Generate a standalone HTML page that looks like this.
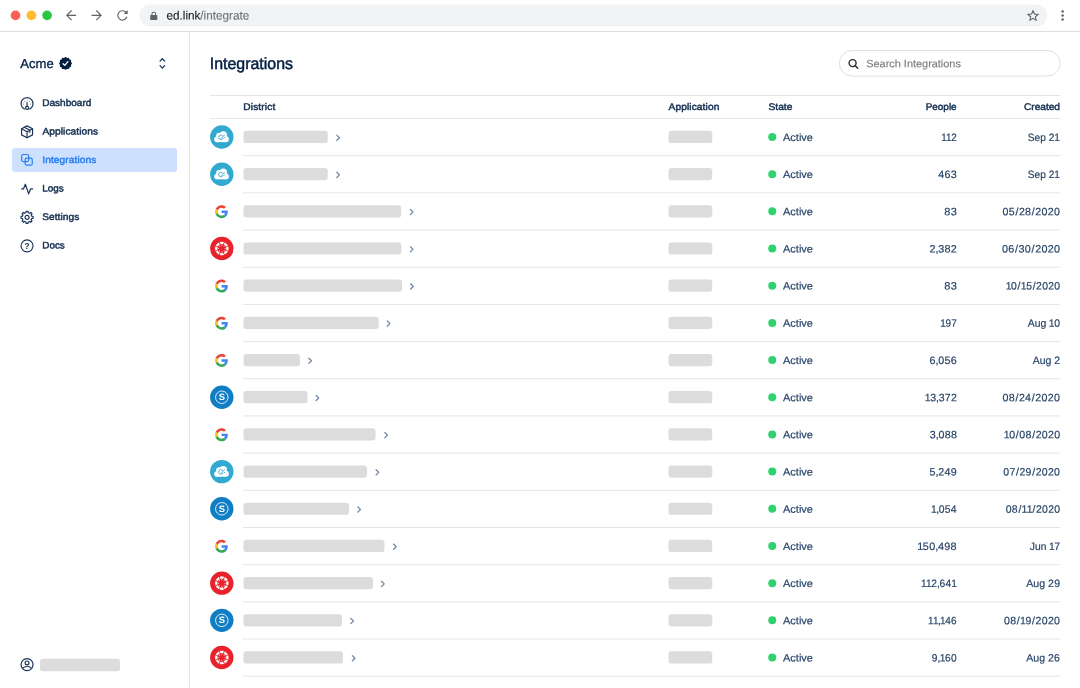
<!DOCTYPE html>
<html lang="en">
<head>
<meta charset="utf-8">
<title>Integrations</title>
<style>
*{box-sizing:border-box}
html,body{margin:0;padding:0;width:1080px;height:688px;overflow:hidden;background:#fff}
body{position:relative;font-family:"Liberation Sans",sans-serif;color:#243b53}
#shapes{position:absolute;left:0;top:0;display:block}
.a{position:absolute;white-space:pre;line-height:1;display:block;transform-origin:0 0;text-rendering:geometricPrecision}
</style>
</head>
<body>
<svg id="shapes" width="1080" height="688" viewBox="0 0 1080 688">
<rect x="0" y="31" width="1080" height="1" fill="#dcdee1"/>
<circle cx="15.5" cy="15.4" r="4.85" fill="#fe5f57"/>
<circle cx="31.35" cy="15.4" r="4.85" fill="#febc2e"/>
<circle cx="47.1" cy="15.4" r="4.85" fill="#28c840"/>
<path d="M76.1 15.3H67.2M71.6 10.5 66.8 15.3 71.6 20.1" fill="none" stroke="#5f6368" stroke-width="1.15"/>
<path d="M91.6 15.3H100.7M96.3 10.5 101.1 15.3 96.3 20.1" fill="none" stroke="#5f6368" stroke-width="1.15"/>
<path d="M126.2 12.6A4.65 4.65 0 1 0 126.9 16.8" fill="none" stroke="#5f6368" stroke-width="1.15"/><path d="M127.7 10.1V14.1H123.7Z" fill="#5f6368"/>
<rect x="139.4" y="4.6" width="907.7" height="21.8" rx="10.9" fill="#f1f3f4"/>
<path d="M151.9 15.6V14a1.85 1.85 0 0 1 3.7 0V15.6" fill="none" stroke="#5f6368" stroke-width="1.05"/><rect x="150.2" y="15.1" width="7.1" height="5" rx=".8" fill="#5f6368"/>
<path transform="translate(1033 15.8) scale(0.47)" d="M0 -10.6 3.1 -3.7 10.7 -3 5 2 6.6 9.4 0 5.5-6.6 9.4-5 2-10.7 -3-3.1 -3.7Z" fill="none" stroke="#5f6368" stroke-width="2.3" stroke-linejoin="miter"/>
<circle cx="1062.6" cy="11.55" r="1.25" fill="#5f6368"/>
<circle cx="1062.6" cy="15.55" r="1.25" fill="#5f6368"/>
<circle cx="1062.6" cy="19.5" r="1.25" fill="#5f6368"/>
<rect x="189" y="32" width="1" height="656" fill="#e5e6e8"/>
<path d="M65.5 56.99 L65.78 57.04 L66.04 57.19 L66.29 57.4 L66.52 57.62 L66.74 57.8 L66.97 57.9 L67.23 57.93 L67.51 57.88 L67.82 57.81 L68.13 57.75 L68.44 57.76 L68.7 57.85 L68.92 58.03 L69.07 58.3 L69.18 58.6 L69.27 58.9 L69.38 59.17 L69.52 59.38 L69.73 59.52 L70 59.63 L70.3 59.72 L70.6 59.83 L70.87 59.98 L71.05 60.2 L71.14 60.46 L71.15 60.77 L71.09 61.08 L71.02 61.39 L70.97 61.67 L71 61.93 L71.1 62.16 L71.28 62.38 L71.5 62.61 L71.71 62.86 L71.86 63.12 L71.91 63.4 L71.86 63.68 L71.71 63.94 L71.5 64.19 L71.28 64.42 L71.1 64.64 L71 64.87 L70.97 65.13 L71.02 65.41 L71.09 65.72 L71.15 66.03 L71.14 66.34 L71.05 66.61 L70.87 66.82 L70.6 66.97 L70.3 67.08 L70 67.17 L69.73 67.28 L69.52 67.42 L69.38 67.63 L69.27 67.9 L69.18 68.2 L69.07 68.5 L68.92 68.77 L68.7 68.95 L68.44 69.04 L68.13 69.05 L67.82 68.99 L67.51 68.92 L67.23 68.87 L66.97 68.9 L66.74 69 L66.52 69.18 L66.29 69.4 L66.04 69.61 L65.78 69.76 L65.5 69.81 L65.22 69.76 L64.96 69.61 L64.71 69.4 L64.48 69.18 L64.26 69 L64.03 68.9 L63.77 68.87 L63.49 68.92 L63.18 68.99 L62.87 69.05 L62.56 69.04 L62.3 68.95 L62.08 68.77 L61.93 68.5 L61.82 68.2 L61.73 67.9 L61.62 67.63 L61.48 67.42 L61.27 67.28 L61 67.17 L60.7 67.08 L60.4 66.97 L60.13 66.82 L59.95 66.61 L59.86 66.34 L59.85 66.03 L59.91 65.72 L59.98 65.41 L60.03 65.13 L60 64.87 L59.9 64.64 L59.72 64.42 L59.5 64.19 L59.29 63.94 L59.14 63.68 L59.09 63.4 L59.14 63.12 L59.29 62.86 L59.5 62.61 L59.72 62.38 L59.9 62.16 L60 61.93 L60.03 61.67 L59.98 61.39 L59.91 61.08 L59.85 60.77 L59.86 60.46 L59.95 60.2 L60.13 59.98 L60.4 59.83 L60.7 59.72 L61 59.63 L61.27 59.52 L61.48 59.38 L61.62 59.17 L61.73 58.9 L61.82 58.6 L61.93 58.3 L62.08 58.03 L62.3 57.85 L62.56 57.76 L62.87 57.75 L63.18 57.81 L63.49 57.88 L63.77 57.93 L64.03 57.9 L64.26 57.8 L64.48 57.62 L64.71 57.4 L64.96 57.19 L65.22 57.04Z" fill="#031f43"/><path d="M63.1 63.7 64.8 65.4 67.9 61.7" fill="none" stroke="#fff" stroke-width="1.3" stroke-linecap="round" stroke-linejoin="round"/>
<path d="M160 61.1 162.35 58.75 164.7 61.1M160 65.7 162.35 68.05 164.7 65.7" fill="none" stroke="#163052" stroke-width="1.2" stroke-linecap="round" stroke-linejoin="round"/>
<rect x="12.05" y="147.9" width="165.05" height="24" rx="2.6" fill="#cde1ff"/>
<g transform="translate(27.05 103.5)"><g fill="none" stroke="#1b3659" stroke-width="1.2" stroke-linecap="round" stroke-linejoin="round"><path d="M-2.6 5.55A6.05 6.05 0 1 1 2.6 5.55"/><circle cx="0" cy="4.4" r="1.55" fill="#fff"/><path d="M0 2.8V-1"/></g><g fill="#1b3659" opacity=".8"><circle cx="0" cy="-3.3" r=".5"/><circle cx="-2.6" cy="-2.2" r=".5"/><circle cx="2.6" cy="-2.2" r=".5"/><circle cx="-3.6" cy="0.4" r=".5"/><circle cx="3.6" cy="0.4" r=".5"/></g></g>
<g transform="translate(27.05 131.97)"><g fill="none" stroke="#1b3659" stroke-width="1.2" stroke-linecap="round" stroke-linejoin="round"><path d="M0 -6.1 5.5 -3.2V2.9L0 5.8 -5.5 2.9V-3.2Z"/><path d="M-5.5 -3.2 0 -.3 5.5 -3.2M0 -.3V5.8M-2.75 -4.65 2.75 -1.75V.4"/></g></g>
<g transform="translate(27.05 160.44)"><g fill="none" stroke="#2b7ff2" stroke-width="1.2" stroke-linecap="round" stroke-linejoin="round" stroke-width="1.3"><rect x="-5.4" y="-5.95" width="7.05" height="7.05" rx="1.5"/><rect x="-1.85" y="-2.3" width="7.05" height="7.05" rx="1.5"/></g></g>
<g transform="translate(27.05 188.91)"><g fill="none" stroke="#1b3659" stroke-width="1.2" stroke-linecap="round" stroke-linejoin="round" stroke-width="1.3"><path d="M-5.4 0H-3.6L-1.7 -4.7 1.6 4.9 3.5 0H5.6"/></g></g>
<g transform="translate(27.05 217.38)"><g fill="none" stroke="#1b3659" stroke-width="1.2" stroke-linecap="round" stroke-linejoin="round"><path d="M-0.95 -6.02 L0.95 -6.02 L1.12 -4.67 L2.51 -4.09 L3.59 -4.94 L4.94 -3.59 L4.09 -2.51 L4.67 -1.12 L6.02 -0.95 L6.02 0.95 L4.67 1.12 L4.09 2.51 L4.94 3.59 L3.59 4.94 L2.51 4.09 L1.12 4.67 L0.95 6.02 L-0.95 6.02 L-1.12 4.67 L-2.51 4.09 L-3.59 4.94 L-4.94 3.59 L-4.09 2.51 L-4.67 1.12 L-6.02 0.95 L-6.02 -0.95 L-4.67 -1.12 L-4.09 -2.51 L-4.94 -3.59 L-3.59 -4.94 L-2.51 -4.09 L-1.12 -4.67Z"/><circle cx="0" cy="0" r="2"/></g></g>
<g transform="translate(27.05 245.85)"><circle r="6" fill="none" stroke="#1b3659" stroke-width="1.15"/><text x="0" y="3.1" text-anchor="middle" font-family="'Liberation Sans',sans-serif" font-size="8.8" font-weight="700" fill="#1b3659">?</text></g>
<g transform="translate(27.05 664.6)"><g fill="none" stroke="#1b3659" stroke-width="1.2" stroke-linecap="round" stroke-linejoin="round"><circle r="6"/><circle cx="0" cy="-1.7" r="1.9"/><path d="M-4.6 3.8C-2.6 1.3 2.6 1.3 4.6 3.8"/></g></g>
<rect x="40" y="658.8" width="80" height="12.4" rx="2.9" fill="#dcdcdc"/>
<rect x="839.4" y="50.5" width="220.7" height="25.6" rx="12.8" fill="#fff" stroke="#dedede" stroke-width="1"/>
<circle cx="852.6" cy="63.1" r="3.5" fill="none" stroke="#1f2933" stroke-width="1.4"/><path d="M855.3 65.8 857.7 68.2" stroke="#1f2933" stroke-width="1.5" stroke-linecap="round"/>
<rect x="210" y="95" width="850" height="1" fill="#e5e5e5"/>
<rect x="210" y="118" width="850" height="1" fill="#e5e5e5"/>
<g transform="translate(221.8 137)"><circle r="11.7" fill="#31a9d0"/><g fill="#fff"><circle cx="-4.8" cy="2.35" r="2.8"/><circle cx="-2.7" cy="-1.3" r="3"/><circle cx="1.5" cy="-2" r="3.65"/><circle cx="4.1" cy="2.2" r="2.95"/><rect x="-4.8" y="-.5" width="8.9" height="5.65"/></g><path d="M.3 -1.7a2.3 2.3 0 1 0 .5 3.6M-.3 1.2l2.9-3.1M1.9 1.5l1.1-1.1" stroke="#3fadd3" stroke-width="1" fill="none" stroke-linecap="round"/></g>
<rect x="243.5" y="130.85" width="84.25" height="12.2" rx="2.9" fill="#dcdcdc"/>
<path d="M336.85 135.1l2.6 2.6-2.6 2.6" fill="none" stroke="#728aa6" stroke-width="1.3" stroke-linecap="round" stroke-linejoin="round"/>
<rect x="668.5" y="130.85" width="43.8" height="12.2" rx="2.9" fill="#dcdcdc"/>
<circle cx="772.25" cy="137" r="4" fill="#2fd26f"/>
<rect x="243" y="155.18" width="817" height="1" fill="#e5e5e5"/>
<g transform="translate(221.8 174.18)"><circle r="11.7" fill="#31a9d0"/><g fill="#fff"><circle cx="-4.8" cy="2.35" r="2.8"/><circle cx="-2.7" cy="-1.3" r="3"/><circle cx="1.5" cy="-2" r="3.65"/><circle cx="4.1" cy="2.2" r="2.95"/><rect x="-4.8" y="-.5" width="8.9" height="5.65"/></g><path d="M.3 -1.7a2.3 2.3 0 1 0 .5 3.6M-.3 1.2l2.9-3.1M1.9 1.5l1.1-1.1" stroke="#3fadd3" stroke-width="1" fill="none" stroke-linecap="round"/></g>
<rect x="243.5" y="168.03" width="84.25" height="12.2" rx="2.9" fill="#dcdcdc"/>
<path d="M336.85 172.28l2.6 2.6-2.6 2.6" fill="none" stroke="#728aa6" stroke-width="1.3" stroke-linecap="round" stroke-linejoin="round"/>
<rect x="668.5" y="168.03" width="43.8" height="12.2" rx="2.9" fill="#dcdcdc"/>
<circle cx="772.25" cy="174.18" r="4" fill="#2fd26f"/>
<rect x="243" y="192.36" width="817" height="1" fill="#e5e5e5"/>
<g transform="translate(221.8 211.36)"><circle r="11.6" fill="#fff" stroke="#fafafa" stroke-width="0.6"/><g transform="translate(-6.75 -6.2) scale(0.271)"><path fill="#EA4335" d="M24 9.5c3.54 0 6.71 1.22 9.21 3.6l6.85-6.85C35.9 2.38 30.47 0 24 0 14.62 0 6.51 5.38 2.56 13.22l7.98 6.19C12.43 13.72 17.74 9.5 24 9.5z"/><path fill="#4285F4" d="M46.98 24.55c0-1.57-.15-3.09-.38-4.55H24v9.02h12.94c-.58 2.96-2.26 5.48-4.78 7.18l7.73 6c4.51-4.18 7.09-10.36 7.09-17.65z"/><path fill="#FBBC05" d="M10.53 28.59c-.48-1.45-.76-2.99-.76-4.59s.27-3.14.76-4.59l-7.98-6.19C.92 16.46 0 20.12 0 24c0 3.88.92 7.54 2.56 10.78l7.97-6.19z"/><path fill="#34A853" d="M24 48c6.48 0 11.93-2.13 15.89-5.81l-7.73-6c-2.15 1.45-4.92 2.3-8.16 2.3-6.26 0-11.57-4.22-13.47-9.91l-7.98 6.19C6.51 42.62 14.62 48 24 48z"/></g></g>
<rect x="243.5" y="205.21" width="157.75" height="12.2" rx="2.9" fill="#dcdcdc"/>
<path d="M410.35 209.46l2.6 2.6-2.6 2.6" fill="none" stroke="#728aa6" stroke-width="1.3" stroke-linecap="round" stroke-linejoin="round"/>
<rect x="668.5" y="205.21" width="43.8" height="12.2" rx="2.9" fill="#dcdcdc"/>
<circle cx="772.25" cy="211.36" r="4" fill="#2fd26f"/>
<rect x="243" y="229.54" width="817" height="1" fill="#e5e5e5"/>
<g transform="translate(221.8 248.54)"><circle r="11.7" fill="#e8222a"/><path transform="rotate(0)" d="M-1.95 -6.3 A6.6 6.6 0 0 1 1.95 -6.3 L1.25 -4.45 A4.6 4.6 0 0 0 -1.25 -4.45Z" fill="#fff" stroke="#fff" stroke-width=".35" stroke-linejoin="round"/><circle transform="rotate(0)" cx="0" cy="-3.3" r="0.5" fill="#fff"/><path transform="rotate(45)" d="M-1.95 -6.3 A6.6 6.6 0 0 1 1.95 -6.3 L1.25 -4.45 A4.6 4.6 0 0 0 -1.25 -4.45Z" fill="#fff" stroke="#fff" stroke-width=".35" stroke-linejoin="round"/><circle transform="rotate(45)" cx="0" cy="-3.3" r="0.5" fill="#fff"/><path transform="rotate(90)" d="M-1.95 -6.3 A6.6 6.6 0 0 1 1.95 -6.3 L1.25 -4.45 A4.6 4.6 0 0 0 -1.25 -4.45Z" fill="#fff" stroke="#fff" stroke-width=".35" stroke-linejoin="round"/><circle transform="rotate(90)" cx="0" cy="-3.3" r="0.5" fill="#fff"/><path transform="rotate(135)" d="M-1.95 -6.3 A6.6 6.6 0 0 1 1.95 -6.3 L1.25 -4.45 A4.6 4.6 0 0 0 -1.25 -4.45Z" fill="#fff" stroke="#fff" stroke-width=".35" stroke-linejoin="round"/><circle transform="rotate(135)" cx="0" cy="-3.3" r="0.5" fill="#fff"/><path transform="rotate(180)" d="M-1.95 -6.3 A6.6 6.6 0 0 1 1.95 -6.3 L1.25 -4.45 A4.6 4.6 0 0 0 -1.25 -4.45Z" fill="#fff" stroke="#fff" stroke-width=".35" stroke-linejoin="round"/><circle transform="rotate(180)" cx="0" cy="-3.3" r="0.5" fill="#fff"/><path transform="rotate(225)" d="M-1.95 -6.3 A6.6 6.6 0 0 1 1.95 -6.3 L1.25 -4.45 A4.6 4.6 0 0 0 -1.25 -4.45Z" fill="#fff" stroke="#fff" stroke-width=".35" stroke-linejoin="round"/><circle transform="rotate(225)" cx="0" cy="-3.3" r="0.5" fill="#fff"/><path transform="rotate(270)" d="M-1.95 -6.3 A6.6 6.6 0 0 1 1.95 -6.3 L1.25 -4.45 A4.6 4.6 0 0 0 -1.25 -4.45Z" fill="#fff" stroke="#fff" stroke-width=".35" stroke-linejoin="round"/><circle transform="rotate(270)" cx="0" cy="-3.3" r="0.5" fill="#fff"/><path transform="rotate(315)" d="M-1.95 -6.3 A6.6 6.6 0 0 1 1.95 -6.3 L1.25 -4.45 A4.6 4.6 0 0 0 -1.25 -4.45Z" fill="#fff" stroke="#fff" stroke-width=".35" stroke-linejoin="round"/><circle transform="rotate(315)" cx="0" cy="-3.3" r="0.5" fill="#fff"/></g>
<rect x="243.5" y="242.39" width="157.75" height="12.2" rx="2.9" fill="#dcdcdc"/>
<path d="M410.35 246.64l2.6 2.6-2.6 2.6" fill="none" stroke="#728aa6" stroke-width="1.3" stroke-linecap="round" stroke-linejoin="round"/>
<rect x="668.5" y="242.39" width="43.8" height="12.2" rx="2.9" fill="#dcdcdc"/>
<circle cx="772.25" cy="248.54" r="4" fill="#2fd26f"/>
<rect x="243" y="266.72" width="817" height="1" fill="#e5e5e5"/>
<g transform="translate(221.8 285.72)"><circle r="11.6" fill="#fff" stroke="#fafafa" stroke-width="0.6"/><g transform="translate(-6.75 -6.2) scale(0.271)"><path fill="#EA4335" d="M24 9.5c3.54 0 6.71 1.22 9.21 3.6l6.85-6.85C35.9 2.38 30.47 0 24 0 14.62 0 6.51 5.38 2.56 13.22l7.98 6.19C12.43 13.72 17.74 9.5 24 9.5z"/><path fill="#4285F4" d="M46.98 24.55c0-1.57-.15-3.09-.38-4.55H24v9.02h12.94c-.58 2.96-2.26 5.48-4.78 7.18l7.73 6c4.51-4.18 7.09-10.36 7.09-17.65z"/><path fill="#FBBC05" d="M10.53 28.59c-.48-1.45-.76-2.99-.76-4.59s.27-3.14.76-4.59l-7.98-6.19C.92 16.46 0 20.12 0 24c0 3.88.92 7.54 2.56 10.78l7.97-6.19z"/><path fill="#34A853" d="M24 48c6.48 0 11.93-2.13 15.89-5.81l-7.73-6c-2.15 1.45-4.92 2.3-8.16 2.3-6.26 0-11.57-4.22-13.47-9.91l-7.98 6.19C6.51 42.62 14.62 48 24 48z"/></g></g>
<rect x="243.5" y="279.57" width="158.5" height="12.2" rx="2.9" fill="#dcdcdc"/>
<path d="M410.6 283.82l2.6 2.6-2.6 2.6" fill="none" stroke="#728aa6" stroke-width="1.3" stroke-linecap="round" stroke-linejoin="round"/>
<rect x="668.5" y="279.57" width="43.8" height="12.2" rx="2.9" fill="#dcdcdc"/>
<circle cx="772.25" cy="285.72" r="4" fill="#2fd26f"/>
<rect x="243" y="303.9" width="817" height="1" fill="#e5e5e5"/>
<g transform="translate(221.8 322.9)"><circle r="11.6" fill="#fff" stroke="#fafafa" stroke-width="0.6"/><g transform="translate(-6.75 -6.2) scale(0.271)"><path fill="#EA4335" d="M24 9.5c3.54 0 6.71 1.22 9.21 3.6l6.85-6.85C35.9 2.38 30.47 0 24 0 14.62 0 6.51 5.38 2.56 13.22l7.98 6.19C12.43 13.72 17.74 9.5 24 9.5z"/><path fill="#4285F4" d="M46.98 24.55c0-1.57-.15-3.09-.38-4.55H24v9.02h12.94c-.58 2.96-2.26 5.48-4.78 7.18l7.73 6c4.51-4.18 7.09-10.36 7.09-17.65z"/><path fill="#FBBC05" d="M10.53 28.59c-.48-1.45-.76-2.99-.76-4.59s.27-3.14.76-4.59l-7.98-6.19C.92 16.46 0 20.12 0 24c0 3.88.92 7.54 2.56 10.78l7.97-6.19z"/><path fill="#34A853" d="M24 48c6.48 0 11.93-2.13 15.89-5.81l-7.73-6c-2.15 1.45-4.92 2.3-8.16 2.3-6.26 0-11.57-4.22-13.47-9.91l-7.98 6.19C6.51 42.62 14.62 48 24 48z"/></g></g>
<rect x="243.5" y="316.75" width="135.25" height="12.2" rx="2.9" fill="#dcdcdc"/>
<path d="M387.35 321l2.6 2.6-2.6 2.6" fill="none" stroke="#728aa6" stroke-width="1.3" stroke-linecap="round" stroke-linejoin="round"/>
<rect x="668.5" y="316.75" width="43.8" height="12.2" rx="2.9" fill="#dcdcdc"/>
<circle cx="772.25" cy="322.9" r="4" fill="#2fd26f"/>
<rect x="243" y="341.08" width="817" height="1" fill="#e5e5e5"/>
<g transform="translate(221.8 360.08)"><circle r="11.6" fill="#fff" stroke="#fafafa" stroke-width="0.6"/><g transform="translate(-6.75 -6.2) scale(0.271)"><path fill="#EA4335" d="M24 9.5c3.54 0 6.71 1.22 9.21 3.6l6.85-6.85C35.9 2.38 30.47 0 24 0 14.62 0 6.51 5.38 2.56 13.22l7.98 6.19C12.43 13.72 17.74 9.5 24 9.5z"/><path fill="#4285F4" d="M46.98 24.55c0-1.57-.15-3.09-.38-4.55H24v9.02h12.94c-.58 2.96-2.26 5.48-4.78 7.18l7.73 6c4.51-4.18 7.09-10.36 7.09-17.65z"/><path fill="#FBBC05" d="M10.53 28.59c-.48-1.45-.76-2.99-.76-4.59s.27-3.14.76-4.59l-7.98-6.19C.92 16.46 0 20.12 0 24c0 3.88.92 7.54 2.56 10.78l7.97-6.19z"/><path fill="#34A853" d="M24 48c6.48 0 11.93-2.13 15.89-5.81l-7.73-6c-2.15 1.45-4.92 2.3-8.16 2.3-6.26 0-11.57-4.22-13.47-9.91l-7.98 6.19C6.51 42.62 14.62 48 24 48z"/></g></g>
<rect x="243.5" y="353.93" width="56.5" height="12.2" rx="2.9" fill="#dcdcdc"/>
<path d="M308.85 358.18l2.6 2.6-2.6 2.6" fill="none" stroke="#728aa6" stroke-width="1.3" stroke-linecap="round" stroke-linejoin="round"/>
<rect x="668.5" y="353.93" width="43.8" height="12.2" rx="2.9" fill="#dcdcdc"/>
<circle cx="772.25" cy="360.08" r="4" fill="#2fd26f"/>
<rect x="243" y="378.26" width="817" height="1" fill="#e5e5e5"/>
<g transform="translate(221.8 397.26)"><circle r="11.7" fill="#0f7ec4"/><circle r="6.25" fill="none" stroke="#fff" stroke-width="0.85"/><text x="0" y="3.05" text-anchor="middle" font-family="'Liberation Sans',sans-serif" font-size="9.4" font-weight="700" fill="#fff" style="text-rendering:geometricPrecision">S</text></g>
<rect x="243.5" y="391.11" width="64" height="12.2" rx="2.9" fill="#dcdcdc"/>
<path d="M316.1 395.36l2.6 2.6-2.6 2.6" fill="none" stroke="#728aa6" stroke-width="1.3" stroke-linecap="round" stroke-linejoin="round"/>
<rect x="668.5" y="391.11" width="43.8" height="12.2" rx="2.9" fill="#dcdcdc"/>
<circle cx="772.25" cy="397.26" r="4" fill="#2fd26f"/>
<rect x="243" y="415.44" width="817" height="1" fill="#e5e5e5"/>
<g transform="translate(221.8 434.44)"><circle r="11.6" fill="#fff" stroke="#fafafa" stroke-width="0.6"/><g transform="translate(-6.75 -6.2) scale(0.271)"><path fill="#EA4335" d="M24 9.5c3.54 0 6.71 1.22 9.21 3.6l6.85-6.85C35.9 2.38 30.47 0 24 0 14.62 0 6.51 5.38 2.56 13.22l7.98 6.19C12.43 13.72 17.74 9.5 24 9.5z"/><path fill="#4285F4" d="M46.98 24.55c0-1.57-.15-3.09-.38-4.55H24v9.02h12.94c-.58 2.96-2.26 5.48-4.78 7.18l7.73 6c4.51-4.18 7.09-10.36 7.09-17.65z"/><path fill="#FBBC05" d="M10.53 28.59c-.48-1.45-.76-2.99-.76-4.59s.27-3.14.76-4.59l-7.98-6.19C.92 16.46 0 20.12 0 24c0 3.88.92 7.54 2.56 10.78l7.97-6.19z"/><path fill="#34A853" d="M24 48c6.48 0 11.93-2.13 15.89-5.81l-7.73-6c-2.15 1.45-4.92 2.3-8.16 2.3-6.26 0-11.57-4.22-13.47-9.91l-7.98 6.19C6.51 42.62 14.62 48 24 48z"/></g></g>
<rect x="243.5" y="428.29" width="132" height="12.2" rx="2.9" fill="#dcdcdc"/>
<path d="M384.85 432.54l2.6 2.6-2.6 2.6" fill="none" stroke="#728aa6" stroke-width="1.3" stroke-linecap="round" stroke-linejoin="round"/>
<rect x="668.5" y="428.29" width="43.8" height="12.2" rx="2.9" fill="#dcdcdc"/>
<circle cx="772.25" cy="434.44" r="4" fill="#2fd26f"/>
<rect x="243" y="452.62" width="817" height="1" fill="#e5e5e5"/>
<g transform="translate(221.8 471.62)"><circle r="11.7" fill="#31a9d0"/><g fill="#fff"><circle cx="-4.8" cy="2.35" r="2.8"/><circle cx="-2.7" cy="-1.3" r="3"/><circle cx="1.5" cy="-2" r="3.65"/><circle cx="4.1" cy="2.2" r="2.95"/><rect x="-4.8" y="-.5" width="8.9" height="5.65"/></g><path d="M.3 -1.7a2.3 2.3 0 1 0 .5 3.6M-.3 1.2l2.9-3.1M1.9 1.5l1.1-1.1" stroke="#3fadd3" stroke-width="1" fill="none" stroke-linecap="round"/></g>
<rect x="243.5" y="465.47" width="123.5" height="12.2" rx="2.9" fill="#dcdcdc"/>
<path d="M376.1 469.72l2.6 2.6-2.6 2.6" fill="none" stroke="#728aa6" stroke-width="1.3" stroke-linecap="round" stroke-linejoin="round"/>
<rect x="668.5" y="465.47" width="43.8" height="12.2" rx="2.9" fill="#dcdcdc"/>
<circle cx="772.25" cy="471.62" r="4" fill="#2fd26f"/>
<rect x="243" y="489.8" width="817" height="1" fill="#e5e5e5"/>
<g transform="translate(221.8 508.8)"><circle r="11.7" fill="#0f7ec4"/><circle r="6.25" fill="none" stroke="#fff" stroke-width="0.85"/><text x="0" y="3.05" text-anchor="middle" font-family="'Liberation Sans',sans-serif" font-size="9.4" font-weight="700" fill="#fff" style="text-rendering:geometricPrecision">S</text></g>
<rect x="243.5" y="502.65" width="105.5" height="12.2" rx="2.9" fill="#dcdcdc"/>
<path d="M357.85 506.9l2.6 2.6-2.6 2.6" fill="none" stroke="#728aa6" stroke-width="1.3" stroke-linecap="round" stroke-linejoin="round"/>
<rect x="668.5" y="502.65" width="43.8" height="12.2" rx="2.9" fill="#dcdcdc"/>
<circle cx="772.25" cy="508.8" r="4" fill="#2fd26f"/>
<rect x="243" y="526.98" width="817" height="1" fill="#e5e5e5"/>
<g transform="translate(221.8 545.98)"><circle r="11.6" fill="#fff" stroke="#fafafa" stroke-width="0.6"/><g transform="translate(-6.75 -6.2) scale(0.271)"><path fill="#EA4335" d="M24 9.5c3.54 0 6.71 1.22 9.21 3.6l6.85-6.85C35.9 2.38 30.47 0 24 0 14.62 0 6.51 5.38 2.56 13.22l7.98 6.19C12.43 13.72 17.74 9.5 24 9.5z"/><path fill="#4285F4" d="M46.98 24.55c0-1.57-.15-3.09-.38-4.55H24v9.02h12.94c-.58 2.96-2.26 5.48-4.78 7.18l7.73 6c4.51-4.18 7.09-10.36 7.09-17.65z"/><path fill="#FBBC05" d="M10.53 28.59c-.48-1.45-.76-2.99-.76-4.59s.27-3.14.76-4.59l-7.98-6.19C.92 16.46 0 20.12 0 24c0 3.88.92 7.54 2.56 10.78l7.97-6.19z"/><path fill="#34A853" d="M24 48c6.48 0 11.93-2.13 15.89-5.81l-7.73-6c-2.15 1.45-4.92 2.3-8.16 2.3-6.26 0-11.57-4.22-13.47-9.91l-7.98 6.19C6.51 42.62 14.62 48 24 48z"/></g></g>
<rect x="243.5" y="539.83" width="141" height="12.2" rx="2.9" fill="#dcdcdc"/>
<path d="M393.6 544.08l2.6 2.6-2.6 2.6" fill="none" stroke="#728aa6" stroke-width="1.3" stroke-linecap="round" stroke-linejoin="round"/>
<rect x="668.5" y="539.83" width="43.8" height="12.2" rx="2.9" fill="#dcdcdc"/>
<circle cx="772.25" cy="545.98" r="4" fill="#2fd26f"/>
<rect x="243" y="564.16" width="817" height="1" fill="#e5e5e5"/>
<g transform="translate(221.8 583.16)"><circle r="11.7" fill="#e8222a"/><path transform="rotate(0)" d="M-1.95 -6.3 A6.6 6.6 0 0 1 1.95 -6.3 L1.25 -4.45 A4.6 4.6 0 0 0 -1.25 -4.45Z" fill="#fff" stroke="#fff" stroke-width=".35" stroke-linejoin="round"/><circle transform="rotate(0)" cx="0" cy="-3.3" r="0.5" fill="#fff"/><path transform="rotate(45)" d="M-1.95 -6.3 A6.6 6.6 0 0 1 1.95 -6.3 L1.25 -4.45 A4.6 4.6 0 0 0 -1.25 -4.45Z" fill="#fff" stroke="#fff" stroke-width=".35" stroke-linejoin="round"/><circle transform="rotate(45)" cx="0" cy="-3.3" r="0.5" fill="#fff"/><path transform="rotate(90)" d="M-1.95 -6.3 A6.6 6.6 0 0 1 1.95 -6.3 L1.25 -4.45 A4.6 4.6 0 0 0 -1.25 -4.45Z" fill="#fff" stroke="#fff" stroke-width=".35" stroke-linejoin="round"/><circle transform="rotate(90)" cx="0" cy="-3.3" r="0.5" fill="#fff"/><path transform="rotate(135)" d="M-1.95 -6.3 A6.6 6.6 0 0 1 1.95 -6.3 L1.25 -4.45 A4.6 4.6 0 0 0 -1.25 -4.45Z" fill="#fff" stroke="#fff" stroke-width=".35" stroke-linejoin="round"/><circle transform="rotate(135)" cx="0" cy="-3.3" r="0.5" fill="#fff"/><path transform="rotate(180)" d="M-1.95 -6.3 A6.6 6.6 0 0 1 1.95 -6.3 L1.25 -4.45 A4.6 4.6 0 0 0 -1.25 -4.45Z" fill="#fff" stroke="#fff" stroke-width=".35" stroke-linejoin="round"/><circle transform="rotate(180)" cx="0" cy="-3.3" r="0.5" fill="#fff"/><path transform="rotate(225)" d="M-1.95 -6.3 A6.6 6.6 0 0 1 1.95 -6.3 L1.25 -4.45 A4.6 4.6 0 0 0 -1.25 -4.45Z" fill="#fff" stroke="#fff" stroke-width=".35" stroke-linejoin="round"/><circle transform="rotate(225)" cx="0" cy="-3.3" r="0.5" fill="#fff"/><path transform="rotate(270)" d="M-1.95 -6.3 A6.6 6.6 0 0 1 1.95 -6.3 L1.25 -4.45 A4.6 4.6 0 0 0 -1.25 -4.45Z" fill="#fff" stroke="#fff" stroke-width=".35" stroke-linejoin="round"/><circle transform="rotate(270)" cx="0" cy="-3.3" r="0.5" fill="#fff"/><path transform="rotate(315)" d="M-1.95 -6.3 A6.6 6.6 0 0 1 1.95 -6.3 L1.25 -4.45 A4.6 4.6 0 0 0 -1.25 -4.45Z" fill="#fff" stroke="#fff" stroke-width=".35" stroke-linejoin="round"/><circle transform="rotate(315)" cx="0" cy="-3.3" r="0.5" fill="#fff"/></g>
<rect x="243.5" y="577.01" width="129.5" height="12.2" rx="2.9" fill="#dcdcdc"/>
<path d="M381.6 581.26l2.6 2.6-2.6 2.6" fill="none" stroke="#728aa6" stroke-width="1.3" stroke-linecap="round" stroke-linejoin="round"/>
<rect x="668.5" y="577.01" width="43.8" height="12.2" rx="2.9" fill="#dcdcdc"/>
<circle cx="772.25" cy="583.16" r="4" fill="#2fd26f"/>
<rect x="243" y="601.34" width="817" height="1" fill="#e5e5e5"/>
<g transform="translate(221.8 620.34)"><circle r="11.7" fill="#0f7ec4"/><circle r="6.25" fill="none" stroke="#fff" stroke-width="0.85"/><text x="0" y="3.05" text-anchor="middle" font-family="'Liberation Sans',sans-serif" font-size="9.4" font-weight="700" fill="#fff" style="text-rendering:geometricPrecision">S</text></g>
<rect x="243.5" y="614.19" width="98.5" height="12.2" rx="2.9" fill="#dcdcdc"/>
<path d="M350.85 618.44l2.6 2.6-2.6 2.6" fill="none" stroke="#728aa6" stroke-width="1.3" stroke-linecap="round" stroke-linejoin="round"/>
<rect x="668.5" y="614.19" width="43.8" height="12.2" rx="2.9" fill="#dcdcdc"/>
<circle cx="772.25" cy="620.34" r="4" fill="#2fd26f"/>
<rect x="243" y="638.52" width="817" height="1" fill="#e5e5e5"/>
<g transform="translate(221.8 657.52)"><circle r="11.7" fill="#e8222a"/><path transform="rotate(0)" d="M-1.95 -6.3 A6.6 6.6 0 0 1 1.95 -6.3 L1.25 -4.45 A4.6 4.6 0 0 0 -1.25 -4.45Z" fill="#fff" stroke="#fff" stroke-width=".35" stroke-linejoin="round"/><circle transform="rotate(0)" cx="0" cy="-3.3" r="0.5" fill="#fff"/><path transform="rotate(45)" d="M-1.95 -6.3 A6.6 6.6 0 0 1 1.95 -6.3 L1.25 -4.45 A4.6 4.6 0 0 0 -1.25 -4.45Z" fill="#fff" stroke="#fff" stroke-width=".35" stroke-linejoin="round"/><circle transform="rotate(45)" cx="0" cy="-3.3" r="0.5" fill="#fff"/><path transform="rotate(90)" d="M-1.95 -6.3 A6.6 6.6 0 0 1 1.95 -6.3 L1.25 -4.45 A4.6 4.6 0 0 0 -1.25 -4.45Z" fill="#fff" stroke="#fff" stroke-width=".35" stroke-linejoin="round"/><circle transform="rotate(90)" cx="0" cy="-3.3" r="0.5" fill="#fff"/><path transform="rotate(135)" d="M-1.95 -6.3 A6.6 6.6 0 0 1 1.95 -6.3 L1.25 -4.45 A4.6 4.6 0 0 0 -1.25 -4.45Z" fill="#fff" stroke="#fff" stroke-width=".35" stroke-linejoin="round"/><circle transform="rotate(135)" cx="0" cy="-3.3" r="0.5" fill="#fff"/><path transform="rotate(180)" d="M-1.95 -6.3 A6.6 6.6 0 0 1 1.95 -6.3 L1.25 -4.45 A4.6 4.6 0 0 0 -1.25 -4.45Z" fill="#fff" stroke="#fff" stroke-width=".35" stroke-linejoin="round"/><circle transform="rotate(180)" cx="0" cy="-3.3" r="0.5" fill="#fff"/><path transform="rotate(225)" d="M-1.95 -6.3 A6.6 6.6 0 0 1 1.95 -6.3 L1.25 -4.45 A4.6 4.6 0 0 0 -1.25 -4.45Z" fill="#fff" stroke="#fff" stroke-width=".35" stroke-linejoin="round"/><circle transform="rotate(225)" cx="0" cy="-3.3" r="0.5" fill="#fff"/><path transform="rotate(270)" d="M-1.95 -6.3 A6.6 6.6 0 0 1 1.95 -6.3 L1.25 -4.45 A4.6 4.6 0 0 0 -1.25 -4.45Z" fill="#fff" stroke="#fff" stroke-width=".35" stroke-linejoin="round"/><circle transform="rotate(270)" cx="0" cy="-3.3" r="0.5" fill="#fff"/><path transform="rotate(315)" d="M-1.95 -6.3 A6.6 6.6 0 0 1 1.95 -6.3 L1.25 -4.45 A4.6 4.6 0 0 0 -1.25 -4.45Z" fill="#fff" stroke="#fff" stroke-width=".35" stroke-linejoin="round"/><circle transform="rotate(315)" cx="0" cy="-3.3" r="0.5" fill="#fff"/></g>
<rect x="243.5" y="651.37" width="99.5" height="12.2" rx="2.9" fill="#dcdcdc"/>
<path d="M352.35 655.62l2.6 2.6-2.6 2.6" fill="none" stroke="#728aa6" stroke-width="1.3" stroke-linecap="round" stroke-linejoin="round"/>
<rect x="668.5" y="651.37" width="43.8" height="12.2" rx="2.9" fill="#dcdcdc"/>
<circle cx="772.25" cy="657.52" r="4" fill="#2fd26f"/>
<rect x="243" y="675.7" width="817" height="1" fill="#e5e5e5"/>
<g transform="translate(221.8 694.7)"><circle r="11.6" fill="#fff" stroke="#fafafa" stroke-width="0.6"/><g transform="translate(-6.75 -6.2) scale(0.271)"><path fill="#EA4335" d="M24 9.5c3.54 0 6.71 1.22 9.21 3.6l6.85-6.85C35.9 2.38 30.47 0 24 0 14.62 0 6.51 5.38 2.56 13.22l7.98 6.19C12.43 13.72 17.74 9.5 24 9.5z"/><path fill="#4285F4" d="M46.98 24.55c0-1.57-.15-3.09-.38-4.55H24v9.02h12.94c-.58 2.96-2.26 5.48-4.78 7.18l7.73 6c4.51-4.18 7.09-10.36 7.09-17.65z"/><path fill="#FBBC05" d="M10.53 28.59c-.48-1.45-.76-2.99-.76-4.59s.27-3.14.76-4.59l-7.98-6.19C.92 16.46 0 20.12 0 24c0 3.88.92 7.54 2.56 10.78l7.97-6.19z"/><path fill="#34A853" d="M24 48c6.48 0 11.93-2.13 15.89-5.81l-7.73-6c-2.15 1.45-4.92 2.3-8.16 2.3-6.26 0-11.57-4.22-13.47-9.91l-7.98 6.19C6.51 42.62 14.62 48 24 48z"/></g></g>
</svg>
<div class="a" style="font-size:12.1px;color:#202124;left:166px;top:9px;transform:translate(0.5px,0.5px) skewY(.03deg) scaleX(0.9683);-webkit-text-stroke:0.12px #202124">ed.link<span style="color:#6f7377;-webkit-text-stroke-color:#6f7377">/integrate</span></div>
<div class="a" style="font-size:13px;color:#031f43;left:20px;top:57px;transform:translate(0.25px,0px) scaleX(1.006);-webkit-text-stroke:0.32px #031f43">Acme</div>
<div class="a" style="font-size:9.6px;color:#163052;left:42px;top:99px;transform:translate(0.25px,0px) scaleX(1.045);-webkit-text-stroke:0.45px #163052">Dashboard</div>
<div class="a" style="font-size:9.6px;color:#163052;left:42px;top:127px;letter-spacing:0.062px;transform:translate(0.5px,0.5px) skewY(.03deg) scaleX(1.06);-webkit-text-stroke:0.45px #163052">Applications</div>
<div class="a" style="font-size:9.6px;color:#2b7ff2;left:42px;top:156px;letter-spacing:0.084px;transform:translate(0.25px,0px) scaleX(1.06);-webkit-text-stroke:0.45px #2b7ff2">Integrations</div>
<div class="a" style="font-size:9.6px;color:#163052;left:42px;top:184px;transform:translate(0.25px,0.5px) skewY(.03deg) scaleX(1.0334);-webkit-text-stroke:0.45px #163052">Logs</div>
<div class="a" style="font-size:9.6px;color:#163052;left:42px;top:213px;letter-spacing:0.034px;transform:translate(0.25px,0px) scaleX(1.06);-webkit-text-stroke:0.45px #163052">Settings</div>
<div class="a" style="font-size:9.6px;color:#163052;left:42px;top:241px;transform:translate(0.25px,0.5px) skewY(.03deg) scaleX(1.0295);-webkit-text-stroke:0.45px #163052">Docs</div>
<div class="a" style="font-size:16.3px;color:#031f43;left:209px;top:56px;transform:translate(0.75px,0px) scaleX(0.9784);-webkit-text-stroke:0.5px #031f43">Integrations</div>
<div class="a" style="font-size:10.7px;color:#7e7e7e;left:866px;top:59px;transform:translate(0.25px,0.25px) skewY(.03deg) scaleX(1.021);-webkit-text-stroke:0.15px #7e7e7e">Search Integrations</div>
<div class="a" style="font-size:9.6px;color:#163052;left:243px;top:103px;letter-spacing:0.130px;transform:translate(0.25px,0px) scaleX(1.06);-webkit-text-stroke:0.45px #163052">District</div>
<div class="a" style="font-size:9.6px;color:#163052;left:668px;top:103px;letter-spacing:0.104px;transform:translate(0.5px,0px) scaleX(1.06);-webkit-text-stroke:0.45px #163052">Application</div>
<div class="a" style="font-size:9.6px;color:#163052;left:768px;top:103px;letter-spacing:0.020px;transform:translate(0.5px,0px) scaleX(1.06);-webkit-text-stroke:0.45px #163052">State</div>
<div class="a" style="font-size:9.6px;color:#163052;left:925px;top:103px;transform:translate(0.75px,0px) scaleX(1.0323);-webkit-text-stroke:0.45px #163052">People</div>
<div class="a" style="font-size:9.6px;color:#163052;left:1024px;top:103px;transform:scaleX(1.0542);-webkit-text-stroke:0.45px #163052">Created</div>
<div class="a" style="font-size:10.65px;color:#264367;left:783px;top:133px;transform:scaleX(1.0342);-webkit-text-stroke:0.18px #264367">Active</div>
<div class="a" style="font-size:10.65px;color:#264367;left:941px;top:133px;transform:translate(0.5px,0px) scaleX(0.93);-webkit-text-stroke:0.18px #264367"><span style="margin-left:-.3px;letter-spacing:-.4px">1</span><span style="margin-left:-.3px;letter-spacing:-.4px">1</span><span style="letter-spacing:.28px">2</span></div>
<div class="a" style="font-size:10.65px;color:#264367;left:1027px;top:133px;transform:translate(0.75px,0px) scaleX(0.9558);-webkit-text-stroke:0.18px #264367">Sep <span style="letter-spacing:.28px">2</span><span style="margin-left:-.3px;letter-spacing:-.4px">1</span></div>
<div class="a" style="font-size:10.65px;color:#264367;left:783px;top:170px;transform:scaleX(1.0342);-webkit-text-stroke:0.18px #264367">Active</div>
<div class="a" style="font-size:10.65px;color:#264367;left:938px;top:170px;transform:translate(0.25px,0px) scaleX(1.0095);-webkit-text-stroke:0.18px #264367"><span style="letter-spacing:.28px">463</span></div>
<div class="a" style="font-size:10.65px;color:#264367;left:1027px;top:170px;transform:translate(0.75px,0px) scaleX(0.9558);-webkit-text-stroke:0.18px #264367">Sep <span style="letter-spacing:.28px">2</span><span style="margin-left:-.3px;letter-spacing:-.4px">1</span></div>
<div class="a" style="font-size:10.65px;color:#264367;left:783px;top:207px;transform:translate(0px,0.25px) skewY(.03deg) scaleX(1.0342);-webkit-text-stroke:0.18px #264367">Active</div>
<div class="a" style="font-size:10.65px;color:#264367;left:944px;top:207px;transform:translate(0.25px,0.25px) skewY(.03deg) scaleX(1.0329);-webkit-text-stroke:0.18px #264367"><span style="letter-spacing:.28px">83</span></div>
<div class="a" style="font-size:10.65px;color:#264367;left:1002px;top:207px;transform:translate(0.5px,0.25px) skewY(.03deg) scaleX(1.0029);-webkit-text-stroke:0.18px #264367"><span style="letter-spacing:.28px">05</span><span style="margin-left:.45px;letter-spacing:.55px">/</span><span style="letter-spacing:.28px">28</span><span style="margin-left:.45px;letter-spacing:.55px">/</span><span style="letter-spacing:.28px">2020</span></div>
<div class="a" style="font-size:10.65px;color:#264367;left:783px;top:244px;transform:translate(0px,0.5px) skewY(.03deg) scaleX(1.0342);-webkit-text-stroke:0.18px #264367">Active</div>
<div class="a" style="font-size:10.65px;color:#264367;left:929px;top:244px;transform:translate(0.5px,0.5px) skewY(.03deg) scaleX(1.0155);-webkit-text-stroke:0.18px #264367"><span style="letter-spacing:.28px">2</span><span style="margin-left:-.2px;letter-spacing:-.35px">,</span><span style="letter-spacing:.28px">382</span></div>
<div class="a" style="font-size:10.65px;color:#264367;left:1002px;top:244px;transform:translate(0px,0.5px) skewY(.03deg) scaleX(1.0135);-webkit-text-stroke:0.18px #264367"><span style="letter-spacing:.28px">06</span><span style="margin-left:.45px;letter-spacing:.55px">/</span><span style="letter-spacing:.28px">30</span><span style="margin-left:.45px;letter-spacing:.55px">/</span><span style="letter-spacing:.28px">2020</span></div>
<div class="a" style="font-size:10.65px;color:#264367;left:783px;top:281px;transform:translate(0px,0.5px) skewY(.03deg) scaleX(1.0342);-webkit-text-stroke:0.18px #264367">Active</div>
<div class="a" style="font-size:10.65px;color:#264367;left:944px;top:281px;transform:translate(0.25px,0.5px) skewY(.03deg) scaleX(1.0329);-webkit-text-stroke:0.18px #264367"><span style="letter-spacing:.28px">83</span></div>
<div class="a" style="font-size:10.65px;color:#264367;left:1006px;top:281px;transform:translate(0px,0.5px) skewY(.03deg) scaleX(0.978);-webkit-text-stroke:0.18px #264367"><span style="margin-left:-.3px;letter-spacing:-.4px">1</span><span style="letter-spacing:.28px">0</span><span style="margin-left:.45px;letter-spacing:.55px">/</span><span style="margin-left:-.3px;letter-spacing:-.4px">1</span><span style="letter-spacing:.28px">5</span><span style="margin-left:.45px;letter-spacing:.55px">/</span><span style="letter-spacing:.28px">2020</span></div>
<div class="a" style="font-size:10.65px;color:#264367;left:783px;top:318px;transform:translate(0px,0.75px) skewY(.03deg) scaleX(1.0342);-webkit-text-stroke:0.18px #264367">Active</div>
<div class="a" style="font-size:10.65px;color:#264367;left:940px;top:318px;transform:translate(0.5px,0.75px) skewY(.03deg) scaleX(0.9367);-webkit-text-stroke:0.18px #264367"><span style="margin-left:-.3px;letter-spacing:-.4px">1</span><span style="letter-spacing:.28px">97</span></div>
<div class="a" style="font-size:10.65px;color:#264367;left:1027px;top:318px;transform:translate(0.75px,0.75px) skewY(.03deg) scaleX(0.9743);-webkit-text-stroke:0.18px #264367">Aug <span style="margin-left:-.3px;letter-spacing:-.4px">1</span><span style="letter-spacing:.28px">0</span></div>
<div class="a" style="font-size:10.65px;color:#264367;left:783px;top:356px;transform:scaleX(1.0342);-webkit-text-stroke:0.18px #264367">Active</div>
<div class="a" style="font-size:10.65px;color:#264367;left:929px;top:356px;transform:translate(0.5px,0px) scaleX(1.013);-webkit-text-stroke:0.18px #264367"><span style="letter-spacing:.28px">6</span><span style="margin-left:-.2px;letter-spacing:-.35px">,</span><span style="letter-spacing:.28px">056</span></div>
<div class="a" style="font-size:10.65px;color:#264367;left:1032px;top:356px;transform:translate(0.75px,0px) scaleX(0.9822);-webkit-text-stroke:0.18px #264367">Aug <span style="letter-spacing:.28px">2</span></div>
<div class="a" style="font-size:10.65px;color:#264367;left:783px;top:393px;transform:translate(0px,0.25px) skewY(.03deg) scaleX(1.0342);-webkit-text-stroke:0.18px #264367">Active</div>
<div class="a" style="font-size:10.65px;color:#264367;left:925px;top:393px;transform:translate(0px,0.25px) skewY(.03deg) scaleX(0.9886);-webkit-text-stroke:0.18px #264367"><span style="margin-left:-.3px;letter-spacing:-.4px">1</span><span style="letter-spacing:.28px">3</span><span style="margin-left:-.2px;letter-spacing:-.35px">,</span><span style="letter-spacing:.28px">372</span></div>
<div class="a" style="font-size:10.65px;color:#264367;left:1002px;top:393px;transform:translate(0.5px,0.25px) skewY(.03deg) scaleX(1.0029);-webkit-text-stroke:0.18px #264367"><span style="letter-spacing:.28px">08</span><span style="margin-left:.45px;letter-spacing:.55px">/</span><span style="letter-spacing:.28px">24</span><span style="margin-left:.45px;letter-spacing:.55px">/</span><span style="letter-spacing:.28px">2020</span></div>
<div class="a" style="font-size:10.65px;color:#264367;left:783px;top:430px;transform:translate(0px,0.25px) skewY(.03deg) scaleX(1.0342);-webkit-text-stroke:0.18px #264367">Active</div>
<div class="a" style="font-size:10.65px;color:#264367;left:929px;top:430px;transform:translate(0.75px,0.25px) skewY(.03deg) scaleX(1.0076);-webkit-text-stroke:0.18px #264367"><span style="letter-spacing:.28px">3</span><span style="margin-left:-.2px;letter-spacing:-.35px">,</span><span style="letter-spacing:.28px">088</span></div>
<div class="a" style="font-size:10.65px;color:#264367;left:1004px;top:430px;transform:translate(0px,0.25px) skewY(.03deg) scaleX(0.9969);-webkit-text-stroke:0.18px #264367"><span style="margin-left:-.3px;letter-spacing:-.4px">1</span><span style="letter-spacing:.28px">0</span><span style="margin-left:.45px;letter-spacing:.55px">/</span><span style="letter-spacing:.28px">08</span><span style="margin-left:.45px;letter-spacing:.55px">/</span><span style="letter-spacing:.28px">2020</span></div>
<div class="a" style="font-size:10.65px;color:#264367;left:783px;top:467px;transform:translate(0px,0.5px) skewY(.03deg) scaleX(1.0342);-webkit-text-stroke:0.18px #264367">Active</div>
<div class="a" style="font-size:10.65px;color:#264367;left:929px;top:467px;transform:translate(0.5px,0.5px) skewY(.03deg) scaleX(1.01);-webkit-text-stroke:0.18px #264367"><span style="letter-spacing:.28px">5</span><span style="margin-left:-.2px;letter-spacing:-.35px">,</span><span style="letter-spacing:.28px">249</span></div>
<div class="a" style="font-size:10.65px;color:#264367;left:1003px;top:467px;transform:translate(0.25px,0.5px) skewY(.03deg) scaleX(0.9906);-webkit-text-stroke:0.18px #264367"><span style="letter-spacing:.28px">07</span><span style="margin-left:.45px;letter-spacing:.55px">/</span><span style="letter-spacing:.28px">29</span><span style="margin-left:.45px;letter-spacing:.55px">/</span><span style="letter-spacing:.28px">2020</span></div>
<div class="a" style="font-size:10.65px;color:#264367;left:783px;top:504px;transform:translate(0px,0.75px) skewY(.03deg) scaleX(1.0342);-webkit-text-stroke:0.18px #264367">Active</div>
<div class="a" style="font-size:10.65px;color:#264367;left:931px;top:504px;transform:translate(0.25px,0.75px) skewY(.03deg) scaleX(0.9772);-webkit-text-stroke:0.18px #264367"><span style="margin-left:-.3px;letter-spacing:-.4px">1</span><span style="margin-left:-.2px;letter-spacing:-.35px">,</span><span style="letter-spacing:.28px">054</span></div>
<div class="a" style="font-size:10.65px;color:#264367;left:1005px;top:504px;transform:translate(0.75px,0.75px) skewY(.03deg) scaleX(0.9836);-webkit-text-stroke:0.18px #264367"><span style="letter-spacing:.28px">08</span><span style="margin-left:.45px;letter-spacing:.55px">/</span><span style="margin-left:-.3px;letter-spacing:-.4px">1</span><span style="margin-left:-.3px;letter-spacing:-.4px">1</span><span style="margin-left:.45px;letter-spacing:.55px">/</span><span style="letter-spacing:.28px">2020</span></div>
<div class="a" style="font-size:10.65px;color:#264367;left:783px;top:542px;transform:scaleX(1.0342);-webkit-text-stroke:0.18px #264367">Active</div>
<div class="a" style="font-size:10.65px;color:#264367;left:917px;top:542px;transform:translate(0.5px,0px) scaleX(1.0204);-webkit-text-stroke:0.18px #264367"><span style="margin-left:-.3px;letter-spacing:-.4px">1</span><span style="letter-spacing:.28px">50</span><span style="margin-left:-.2px;letter-spacing:-.35px">,</span><span style="letter-spacing:.28px">498</span></div>
<div class="a" style="font-size:10.65px;color:#264367;left:1029px;top:542px;transform:translate(0.75px,0px) scaleX(0.9704);-webkit-text-stroke:0.18px #264367">Jun <span style="margin-left:-.3px;letter-spacing:-.4px">1</span><span style="letter-spacing:.28px">7</span></div>
<div class="a" style="font-size:10.65px;color:#264367;left:783px;top:579px;transform:scaleX(1.0342);-webkit-text-stroke:0.18px #264367">Active</div>
<div class="a" style="font-size:10.65px;color:#264367;left:921px;top:579px;transform:translate(0.25px,0px) scaleX(0.9605);-webkit-text-stroke:0.18px #264367"><span style="margin-left:-.3px;letter-spacing:-.4px">1</span><span style="margin-left:-.3px;letter-spacing:-.4px">1</span><span style="letter-spacing:.28px">2</span><span style="margin-left:-.2px;letter-spacing:-.35px">,</span><span style="letter-spacing:.28px">64</span><span style="margin-left:-.3px;letter-spacing:-.4px">1</span></div>
<div class="a" style="font-size:10.65px;color:#264367;left:1026px;top:579px;transform:translate(0.25px,0px) scaleX(0.9934);-webkit-text-stroke:0.18px #264367">Aug <span style="letter-spacing:.28px">29</span></div>
<div class="a" style="font-size:10.65px;color:#264367;left:783px;top:616px;transform:translate(0px,0.25px) skewY(.03deg) scaleX(1.0342);-webkit-text-stroke:0.18px #264367">Active</div>
<div class="a" style="font-size:10.65px;color:#264367;left:928px;top:616px;transform:translate(0.25px,0.25px) skewY(.03deg) scaleX(0.9388);-webkit-text-stroke:0.18px #264367"><span style="margin-left:-.3px;letter-spacing:-.4px">1</span><span style="margin-left:-.3px;letter-spacing:-.4px">1</span><span style="margin-left:-.2px;letter-spacing:-.35px">,</span><span style="margin-left:-.3px;letter-spacing:-.4px">1</span><span style="letter-spacing:.28px">46</span></div>
<div class="a" style="font-size:10.65px;color:#264367;left:1004px;top:616px;transform:translate(0px,0.25px) skewY(.03deg) scaleX(0.9952);-webkit-text-stroke:0.18px #264367"><span style="letter-spacing:.28px">08</span><span style="margin-left:.45px;letter-spacing:.55px">/</span><span style="margin-left:-.3px;letter-spacing:-.4px">1</span><span style="letter-spacing:.28px">9</span><span style="margin-left:.45px;letter-spacing:.55px">/</span><span style="letter-spacing:.28px">2020</span></div>
<div class="a" style="font-size:10.65px;color:#264367;left:783px;top:653px;transform:translate(0px,0.5px) skewY(.03deg) scaleX(1.0342);-webkit-text-stroke:0.18px #264367">Active</div>
<div class="a" style="font-size:10.65px;color:#264367;left:931px;top:653px;transform:translate(0.75px,0.5px) skewY(.03deg) scaleX(0.9604);-webkit-text-stroke:0.18px #264367"><span style="letter-spacing:.28px">9</span><span style="margin-left:-.2px;letter-spacing:-.35px">,</span><span style="margin-left:-.3px;letter-spacing:-.4px">1</span><span style="letter-spacing:.28px">60</span></div>
<div class="a" style="font-size:10.65px;color:#264367;left:1026px;top:653px;transform:translate(0.25px,0.5px) skewY(.03deg) scaleX(0.9923);-webkit-text-stroke:0.18px #264367">Aug <span style="letter-spacing:.28px">26</span></div>
</body>
</html>
